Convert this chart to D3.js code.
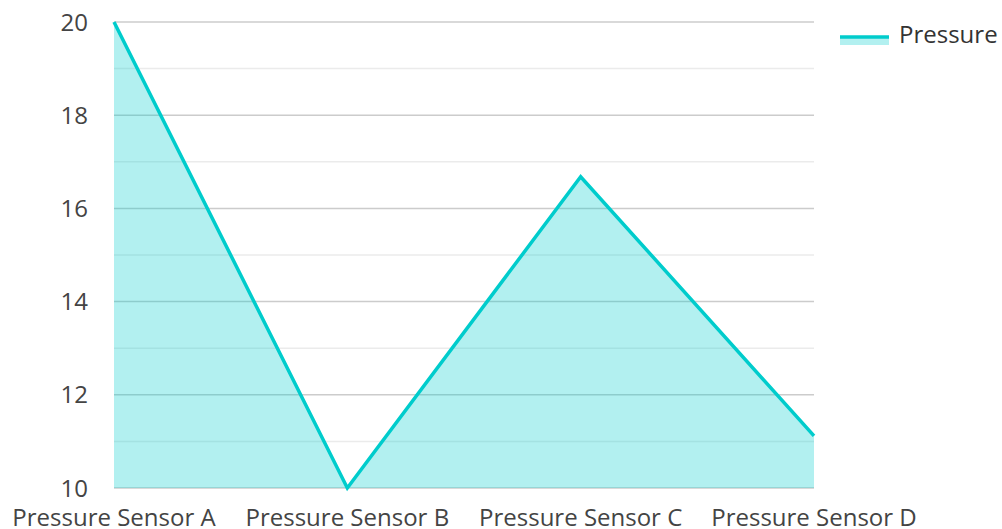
<!DOCTYPE html>
<html>
<head>
<meta charset="utf-8">
<script src="https://cdn.jsdelivr.net/npm/d3@7"></script>
<style>
  body { margin: 0; background: #fff; }
  svg text { font-family: "Open Sans", "Noto Sans", sans-serif; }
</style>
</head>
<body>
<div id="chart"></div>
<script>
// datos
const sensores = ["Pressure Sensor A", "Pressure Sensor B", "Pressure Sensor C", "Pressure Sensor D"];
const presion = [20, 10, 16.68, 11.12];
const ticksY = [10, 12, 14, 16, 18, 20];
const ticksMenores = [11, 13, 15, 17, 19];
const nombreSerie = "Pressure";

const width = 1002, height = 529;
const color = "#00cccc";

const svg = d3.select("#chart").append("svg")
    .attr("width", width)
    .attr("height", height);

const x = d3.scalePoint().domain(sensores).range([114, 814]);
const y = d3.scaleLinear().domain([10, 20]).range([488, 22]);

// lineas de rejilla
svg.selectAll(".minor")
    .data(ticksMenores)
    .enter()
    .append("line")
    .attr("x1", 114).attr("x2", 814)
    .attr("y1", d => y(d)).attr("y2", d => y(d))
    .style("stroke", "#ebebeb")
    .style("stroke-width", 1.5);

svg.selectAll(".major")
    .data(ticksY)
    .enter()
    .append("line")
    .attr("x1", 114).attr("x2", 814)
    .attr("y1", d => y(d)).attr("y2", d => y(d))
    .style("stroke", "#cccccc")
    .style("stroke-width", 1.5);

// area
const area = d3.area()
    .x((d, i) => x(sensores[i]))
    .y0(y(10))
    .y1(d => y(d));

svg.append("path")
    .datum(presion)
    .attr("d", area)
    .style("fill", color)
    .style("fill-opacity", 0.3);

const linea = d3.line()
    .x((d, i) => x(sensores[i]))
    .y(d => y(d));

svg.append("path")
    .datum(presion)
    .attr("d", linea)
    .style("fill", "none")
    .style("stroke", color)
    .style("stroke-width", 3.5);

// etiquetas eje Y
svg.selectAll(".ylabel")
    .data(ticksY)
    .enter()
    .append("text")
    .attr("x", 88)
    .attr("y", d => y(d) + 8.5)
    .attr("text-anchor", "end")
    .text(d => d)
    .style("font-size", "24px")
    .style("fill", "#444");

// etiquetas eje X
svg.selectAll(".xlabel")
    .data(sensores)
    .enter()
    .append("text")
    .attr("x", d => x(d))
    .attr("y", 526)
    .attr("text-anchor", "middle")
    .text(d => d)
    .style("font-size", "24px")
    .style("fill", "#444");

// leyenda
const leyenda = svg.append("g").attr("transform", "translate(840,37)");
leyenda.append("rect")
    .attr("x", 0).attr("y", 0)
    .attr("width", 49).attr("height", 8)
    .style("fill", color)
    .style("fill-opacity", 0.3);
leyenda.append("line")
    .attr("x1", 0).attr("x2", 49)
    .attr("y1", 0).attr("y2", 0)
    .style("stroke", color)
    .style("stroke-width", 3.5);
leyenda.append("text")
    .attr("x", 59)
    .attr("y", 5.5)
    .text(nombreSerie)
    .style("font-size", "24px")
    .style("fill", "#333");
</script>
</body>
</html>
